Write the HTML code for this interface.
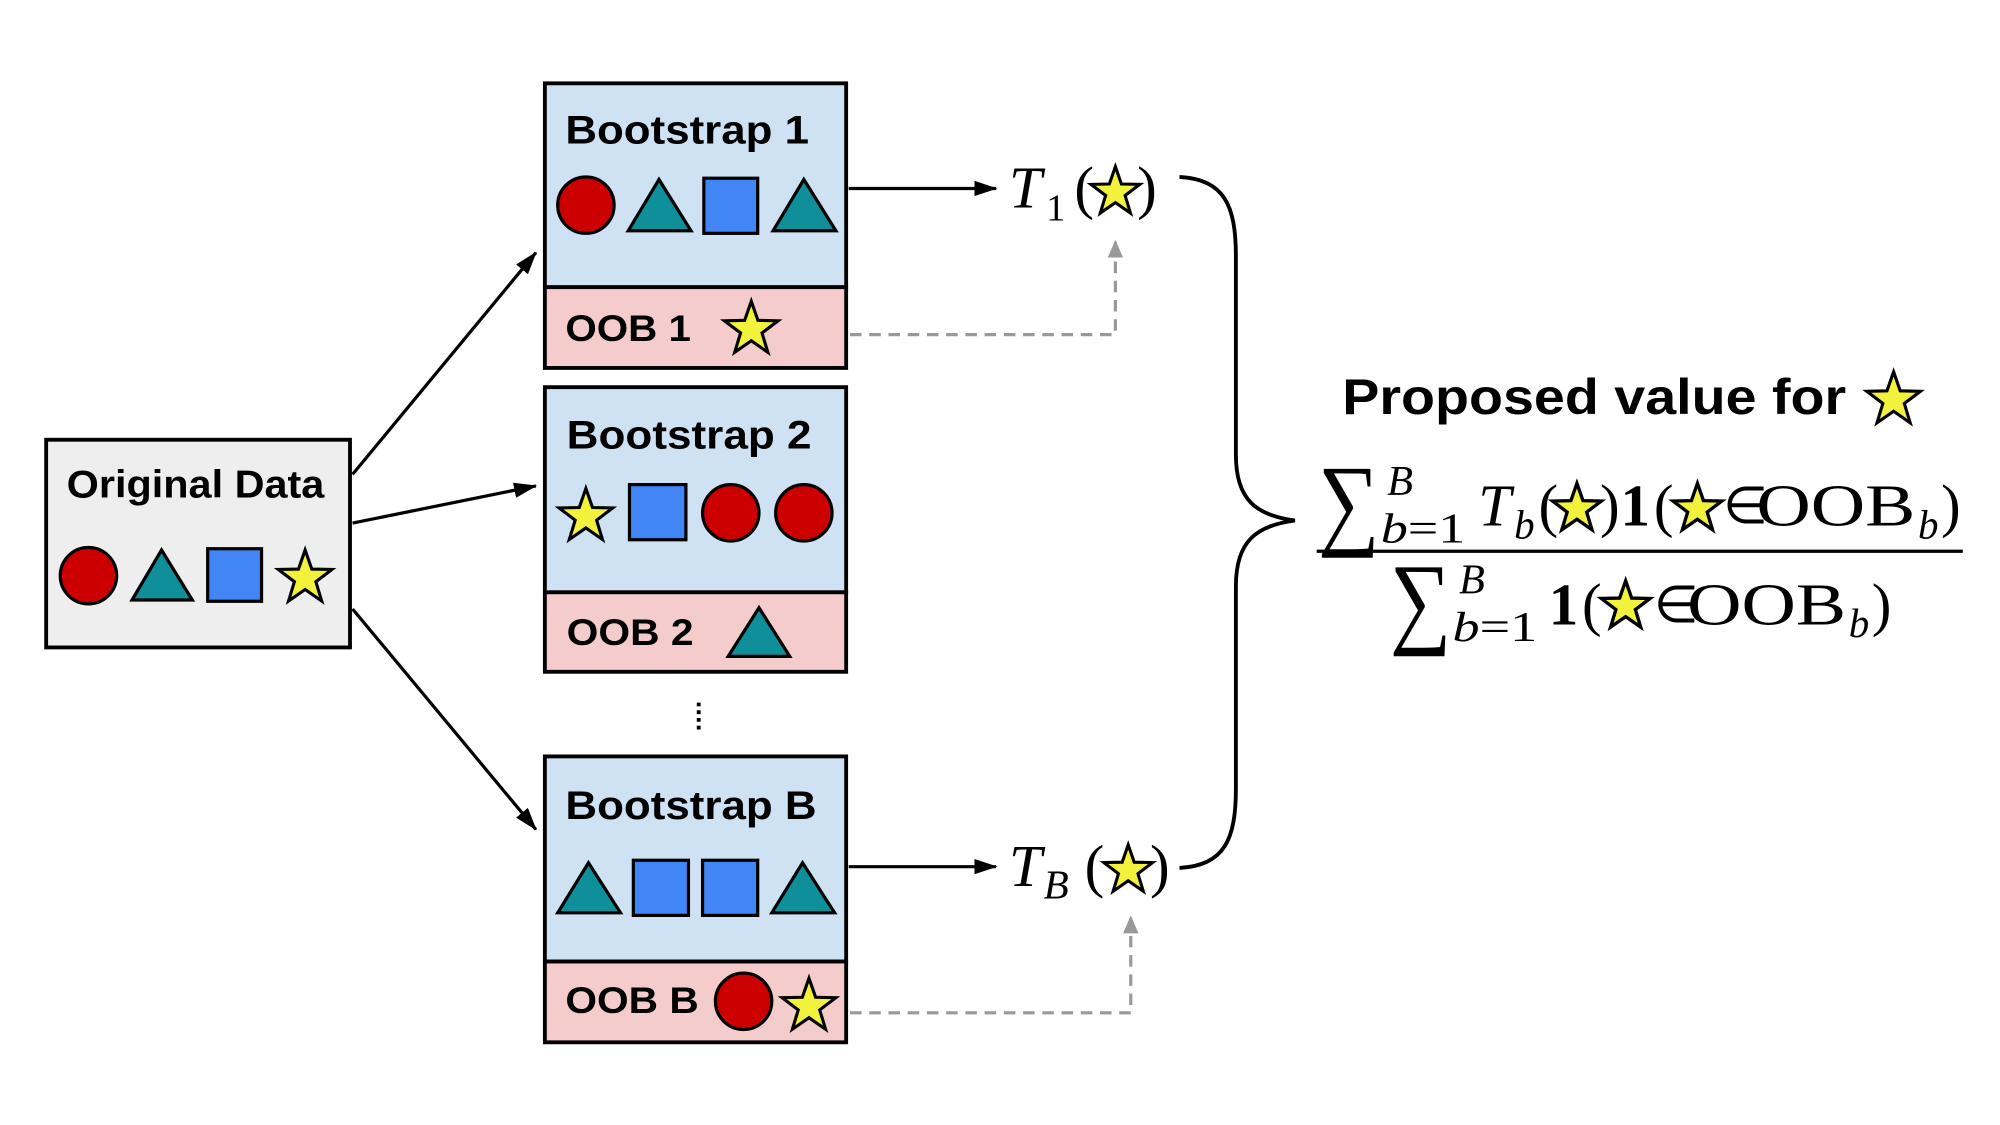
<!DOCTYPE html>
<html><head><meta charset="utf-8"><style>
html,body{margin:0;padding:0;background:#fff;}
svg{display:block;}
.h{font-family:"Liberation Sans",sans-serif;font-weight:bold;}
.m{font-family:"Liberation Serif",serif;}
</style></head><body>
<svg width="2000" height="1125" viewBox="0 0 1560 877.5" xmlns="http://www.w3.org/2000/svg">
<defs>
<polygon id="st" points="0,-1 0.235,-0.324 0.951,-0.309 0.38,0.124 0.588,0.809 0,0.4 -0.588,0.809 -0.38,0.124 -0.951,-0.309 -0.235,-0.324" fill="#f2f23c" stroke="#000" stroke-linejoin="miter"/>
<marker id="ah" markerWidth="18" markerHeight="12" refX="17" refY="6" orient="auto" markerUnits="userSpaceOnUse"><path d="M0,0 L18,6 L0,12 Z" fill="#000"/></marker>
<marker id="ag" markerWidth="14" markerHeight="18" refX="12" refY="7" orient="auto" markerUnits="userSpaceOnUse"><path d="M0,1 L14,7 L0,13 Z" fill="#999"/></marker>
</defs>
<rect width="1560" height="877.5" fill="#fff"/>

<!-- Original data -->
<rect x="36" y="343" width="237" height="162" fill="#eeeeee" stroke="#000" stroke-width="3"/>
<text x="52" y="388" class="h" font-size="30" textLength="201" lengthAdjust="spacingAndGlyphs">Original Data</text>
<circle cx="69" cy="449" r="22" fill="#cc0000" stroke="#000" stroke-width="2.5"/>
<polygon points="103,468 126,429 150,468" fill="#0e8f9a" stroke="#000" stroke-width="2.5"/>
<rect x="162" y="428" width="42" height="41" fill="#4285f4" stroke="#000" stroke-width="2.5"/>
<use href="#st" transform="translate(238,451) scale(22)" stroke-width="0.11"/>

<!-- Bootstrap 1 -->
<rect x="425" y="65" width="235" height="159" fill="#cfe2f3" stroke="#000" stroke-width="3"/>
<rect x="425" y="224" width="235" height="63" fill="#f4cccc" stroke="#000" stroke-width="3"/>
<text x="441" y="112" class="h" font-size="31" textLength="190" lengthAdjust="spacingAndGlyphs">Bootstrap 1</text>
<circle cx="457" cy="160" r="22" fill="#cc0000" stroke="#000" stroke-width="2.5"/>
<polygon points="490,180 514,140 539,180" fill="#0e8f9a" stroke="#000" stroke-width="2.5"/>
<rect x="549" y="139" width="42" height="43" fill="#4285f4" stroke="#000" stroke-width="2.5"/>
<polygon points="603,180 627,140 652,180" fill="#0e8f9a" stroke="#000" stroke-width="2.5"/>
<text x="441" y="266" class="h" font-size="29" textLength="98" lengthAdjust="spacingAndGlyphs">OOB 1</text>
<use href="#st" transform="translate(586,257) scale(22)" stroke-width="0.11"/>

<!-- Bootstrap 2 -->
<rect x="425" y="302" width="235" height="160" fill="#cfe2f3" stroke="#000" stroke-width="3"/>
<rect x="425" y="462" width="235" height="62" fill="#f4cccc" stroke="#000" stroke-width="3"/>
<text x="442" y="350" class="h" font-size="31" textLength="191" lengthAdjust="spacingAndGlyphs">Bootstrap 2</text>
<use href="#st" transform="translate(457,403) scale(22)" stroke-width="0.11"/>
<rect x="491" y="378" width="44" height="43" fill="#4285f4" stroke="#000" stroke-width="2.5"/>
<circle cx="570" cy="400" r="22" fill="#cc0000" stroke="#000" stroke-width="2.5"/>
<circle cx="627" cy="400" r="22" fill="#cc0000" stroke="#000" stroke-width="2.5"/>
<text x="442" y="503" class="h" font-size="29" textLength="99" lengthAdjust="spacingAndGlyphs">OOB 2</text>
<polygon points="568,512 592,474 616,512" fill="#0e8f9a" stroke="#000" stroke-width="2.5"/>

<line x1="545" y1="548" x2="545" y2="571" stroke="#000" stroke-width="3" stroke-dasharray="3,3"/>

<!-- Bootstrap B -->
<rect x="425" y="590" width="235" height="160" fill="#cfe2f3" stroke="#000" stroke-width="3"/>
<rect x="425" y="750" width="235" height="63" fill="#f4cccc" stroke="#000" stroke-width="3"/>
<text x="441" y="639" class="h" font-size="31" textLength="196" lengthAdjust="spacingAndGlyphs">Bootstrap B</text>
<polygon points="435,712 459,673 484,712" fill="#0e8f9a" stroke="#000" stroke-width="2.5"/>
<rect x="494" y="671" width="43" height="43" fill="#4285f4" stroke="#000" stroke-width="2.5"/>
<rect x="548" y="671" width="43" height="43" fill="#4285f4" stroke="#000" stroke-width="2.5"/>
<polygon points="602,712 626,673 651,712" fill="#0e8f9a" stroke="#000" stroke-width="2.5"/>
<text x="441" y="790" class="h" font-size="29" textLength="104" lengthAdjust="spacingAndGlyphs">OOB B</text>
<circle cx="580" cy="781" r="22" fill="#cc0000" stroke="#000" stroke-width="2.5"/>
<use href="#st" transform="translate(631,785) scale(22)" stroke-width="0.11"/>

<!-- arrows -->
<g stroke="#000" stroke-width="2.5" fill="none">
<line x1="275" y1="370" x2="418" y2="197" marker-end="url(#ah)"/>
<line x1="275" y1="408" x2="418" y2="379" marker-end="url(#ah)"/>
<line x1="275" y1="475" x2="418" y2="647" marker-end="url(#ah)"/>
<line x1="662" y1="147" x2="777" y2="147" marker-end="url(#ah)"/>
<line x1="662" y1="676" x2="777" y2="676" marker-end="url(#ah)"/>
</g>
<g stroke="#999" stroke-width="2.5" fill="none" stroke-dasharray="9,6">
<polyline points="663,261 870,261 870,189" marker-end="url(#ag)"/>
<polyline points="663,790 882,790 882,716" marker-end="url(#ag)"/>
</g>

<!-- T labels -->
<text x="787" y="162" class="m" font-size="46" font-style="italic">T</text>
<text x="816" y="172" class="m" font-size="30">1</text>
<text x="838" y="162" class="m" font-size="46">(</text>
<use href="#st" transform="translate(870,150) scale(20)" stroke-width="0.12"/>
<text x="887" y="162" class="m" font-size="46">)</text>

<text x="787" y="691" class="m" font-size="46" font-style="italic">T</text>
<text x="814" y="701" class="m" font-size="32" font-style="italic">B</text>
<text x="846" y="691" class="m" font-size="46">(</text>
<use href="#st" transform="translate(880,679) scale(20)" stroke-width="0.12"/>
<text x="897" y="691" class="m" font-size="46">)</text>

<!-- brace -->
<path d="M920,138 C955,140 964,160 964,200 L964,355 C964,390 980,402 1010,406 C980,410 964,422 964,457 L964,615 C964,655 955,675 920,677" fill="none" stroke="#000" stroke-width="3"/>

<text x="1047" y="323" class="h" font-size="39" textLength="393" lengthAdjust="spacingAndGlyphs">Proposed value for</text>
<use href="#st" transform="translate(1477,312) scale(22)" stroke-width="0.11"/>

<!-- numerator -->
<text x="1028" y="418" class="m" font-size="80" textLength="48" lengthAdjust="spacingAndGlyphs">∑</text>
<text x="1082" y="386" class="m" font-size="33" font-style="italic">B</text>
<text x="1077" y="423" class="m" font-size="33" textLength="66" lengthAdjust="spacingAndGlyphs"><tspan font-style="italic">b</tspan>=1</text>
<text x="1153" y="410" class="m" font-size="46" font-style="italic">T</text>
<text x="1181" y="420" class="m" font-size="32" font-style="italic">b</text>
<text x="1200" y="410" class="m" font-size="46">(</text>
<use href="#st" transform="translate(1230,397) scale(20)" stroke-width="0.13"/>
<text x="1248" y="410" class="m" font-size="46">)</text>
<text x="1264" y="410" class="m" font-size="46" font-weight="bold">1</text>
<text x="1290" y="410" class="m" font-size="46">(</text>
<use href="#st" transform="translate(1324,397) scale(20)" stroke-width="0.13"/>
<text x="1344" y="408" class="m" font-size="40">∈</text>
<text x="1370" y="410" class="m" font-size="46" textLength="124" lengthAdjust="spacingAndGlyphs">OOB</text>
<text x="1496" y="420" class="m" font-size="32" font-style="italic">b</text>
<text x="1514" y="410" class="m" font-size="46">)</text>

<line x1="1027" y1="430" x2="1531" y2="430" stroke="#000" stroke-width="2.5"/>

<!-- denominator -->
<text x="1084" y="495" class="m" font-size="80" textLength="48" lengthAdjust="spacingAndGlyphs">∑</text>
<text x="1138" y="463" class="m" font-size="33" font-style="italic">B</text>
<text x="1133" y="500" class="m" font-size="33" textLength="66" lengthAdjust="spacingAndGlyphs"><tspan font-style="italic">b</tspan>=1</text>
<text x="1208" y="487" class="m" font-size="46" font-weight="bold">1</text>
<text x="1234" y="487" class="m" font-size="46">(</text>
<use href="#st" transform="translate(1268,473) scale(20)" stroke-width="0.13"/>
<text x="1290" y="485" class="m" font-size="40">∈</text>
<text x="1316" y="487" class="m" font-size="46" textLength="124" lengthAdjust="spacingAndGlyphs">OOB</text>
<text x="1442" y="497" class="m" font-size="32" font-style="italic">b</text>
<text x="1460" y="487" class="m" font-size="46">)</text>
</svg>
</body></html>
